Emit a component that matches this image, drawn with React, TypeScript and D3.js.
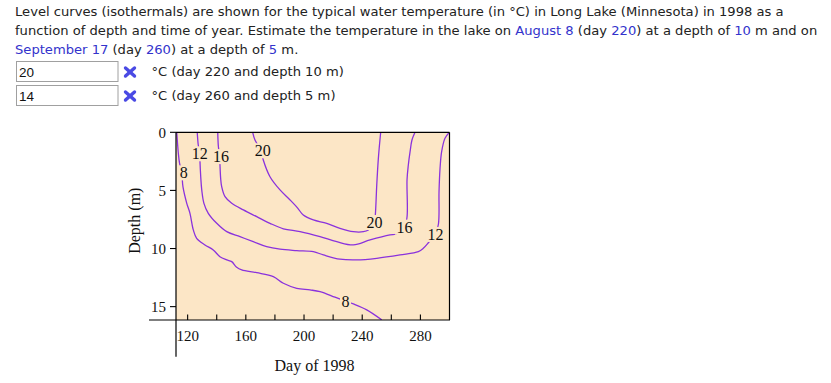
import React from 'react';
import * as d3 from 'd3';

type P = [number, number];

// Isotherm curves: [day of 1998, depth in m]
const curve8: P[] = [[112.5,0],[113.6,1.8],[114.4,2.64],[115.9,3.47],[116.8,4.7],[119.4,6.11],[121.6,6.97],[123.9,8.4],[126.2,9.12],[131.9,9.69],[137.6,10.12],[142.2,10.7],[146.9,10.98],[150.3,11.13],[153.7,11.61],[157.2,11.84],[167.5,12.08],[178.9,12.42],[185.8,12.99],[195.0,13.42],[204.1,13.56],[211.0,13.71],[221.3,14.19],[228.2,14.51],[233.9,14.77],[243.1,15.28],[253.4,16.14]];
const curve12: P[] = [[126.6,0],[127.3,1.09],[128.4,1.85],[128.5,2.55],[129.0,3.82],[129.7,4.96],[131.2,6.11],[134.2,6.97],[140.0,7.83],[146.9,8.55],[156.0,8.98],[165.1,9.41],[174.3,9.84],[183.5,10.06],[195.0,10.18],[206.4,10.27],[213.3,10.55],[224.7,10.92],[236.2,10.98],[250.0,10.84],[266.0,10.55],[278.6,10.27],[282.0,9.98],[285.9,9.44],[290.3,8.79],[292.4,7.89],[292.8,5.11],[293.5,3.10],[294.6,1.67],[296.9,0.52],[299.9,0]];
const curve16: P[] = [[140.7,0],[141.1,1.18],[142.0,2.09],[142.2,2.73],[142.7,3.96],[143.4,4.68],[145.7,5.54],[150.3,6.11],[158.3,6.68],[167.5,7.26],[176.6,7.83],[185.8,8.3],[197.3,8.55],[211.0,8.98],[222.5,9.41],[233.9,9.69],[245.4,9.26],[259.1,8.83],[263.2,8.75],[269.0,8.16],[270.8,7.29],[270.8,4.10],[271.7,2.81],[272.9,1.67],[274.2,0.66],[276.3,0]];
const curve20: P[] = [[164.7,0],[166.3,0.66],[170.5,1.59],[172.0,2.38],[176.6,3.82],[183.5,4.96],[190.4,5.82],[195.5,6.5],[199.5,7.12],[206.4,7.54],[215.6,7.83],[224.7,8.26],[233.9,8.55],[240.8,8.55],[244.2,8.40],[248.5,7.76],[249.1,6.97],[250.0,4.53],[251.1,2.24],[252.7,0]];

const curves: P[][] = [curve8, curve12, curve16, curve20];

const labelTexts = ['8', '12', '16', '20', '20', '16', '12', '8'];
const labelDays = [117.3, 128.4, 142.9, 171.6, 248.5, 269.0, 290.3, 228.5];
const labelDepths = [3.49, 1.85, 2.09, 1.59, 7.76, 8.16, 8.79, 14.54];

const xTicks = [120, 140, 160, 180, 200, 220, 240, 260, 280];
const xTickLabels = [120, 160, 200, 240, 280];
const yTicks = [0, 5, 10, 15];

const answers = ['20', '14'];
const answerTexts = ['°C (day 220 and depth 10 m)', '°C (day 260 and depth 5 m)'];

const BLUE = '#3333cc';
const TXT = '#222';

export default function App() {
  const x = d3.scaleLinear().domain([112, 300]).range([176, 449.5]);
  const y = d3.scaleLinear().domain([0, 16.15]).range([132.3, 320]);
  const line = d3.line<P>().x(d => x(d[0])).y(d => y(d[1])).curve(d3.curveCatmullRom.alpha(0.5));
  const [x0, x1] = x.range();
  const [y0, y1] = y.range();
  const serif = '"Liberation Serif", "Times New Roman", serif';
  const sans = '"DejaVu Sans", Verdana, sans-serif';

  return (
    <svg width={831} height={383} style={{ position: 'absolute', left: 0, top: 0, background: '#fff' }}>
      <defs>
        <clipPath id="plotclip">
          <rect x={x0} y={y0} width={x1 - x0} height={y1 - y0} />
        </clipPath>
      </defs>
      {/* Question text */}
      <g fontFamily={sans} fontSize={13.12} fill={TXT}>
        <text x={15} y={15.5}>Level curves (isothermals) are shown for the typical water temperature (in °C) in Long Lake (Minnesota) in 1998 as a</text>
        <text x={15} y={34.5}>function of depth and time of year. Estimate the temperature in the lake on <tspan fill={BLUE}>August 8</tspan> (day <tspan fill={BLUE}>220</tspan>) at a depth of <tspan fill={BLUE}>10</tspan> m and on</text>
        <text x={15} y={54}><tspan fill={BLUE}>September 17</tspan> (day <tspan fill={BLUE}>260</tspan>) at a depth of <tspan fill={BLUE}>5</tspan> m.</text>
      </g>
      {answers.map((a, i) => {
        const top = 61.5 + i * 24;
        return (
          <g key={i}>
            <rect x={16.5} y={top} width={101.5} height={20} fill="#fff" stroke="#a0a0a0" strokeWidth={1} />
            <text x={19} y={top + 15} fontFamily='"Liberation Sans", Arial, sans-serif' fontSize={13.5} fill="#111">{a}</text>
            <g transform={`translate(130,${top + 10.5})`} stroke="#4a4ae4" strokeWidth={3.4} strokeLinecap="round">
              <line x1={-4.5} y1={-4} x2={4.5} y2={4} />
              <line x1={4.5} y1={-4} x2={-4.5} y2={4} />
            </g>
            <text x={151.5} y={top + 14.5} fontFamily={sans} fontSize={13.12} fill={TXT}>{answerTexts[i]}</text>
          </g>
        );
      })}
      {/* Plot background */}
      <rect x={x0} y={y0} width={x1 - x0} height={y1 - y0} fill="#fce6c6" />
      {/* Curves */}
      <g clipPath="url(#plotclip)">
        {curves.map((c, i) => (
          <path key={i} d={line(c) || ''} fill="none" stroke="#8a32dc" strokeWidth={1.3} />
        ))}
        {labelTexts.map((t, i) => {
          const w = t.length * 8 + 3;
          return (
            <rect key={i} x={x(labelDays[i]) - w / 2} y={y(labelDepths[i]) - 7.5} width={w} height={15} fill="#fce6c6" />
          );
        })}
      </g>
      {labelTexts.map((t, i) => (
        <text key={i} x={x(labelDays[i])} y={y(labelDepths[i])} dy="0.35em" textAnchor="middle" fontFamily={serif} fontSize={16} fill="#111">{t}</text>
      ))}
      {/* Frame */}
      <g stroke="#000" strokeWidth={1.2} fill="none">
        <line x1={x0} y1={y0} x2={x1} y2={y0} />
        <line x1={x1} y1={y0} x2={x1} y2={y1} />
        <line x1={x0} y1={y0} x2={x0} y2={356.7} />
        <line x1={149} y1={y1} x2={x1 + 0.5} y2={y1} />
      </g>
      {/* X ticks */}
      {xTicks.map(t => (
        <line key={t} x1={x(t)} y1={y1} x2={x(t)} y2={y1 - 5.5} stroke="#000" strokeWidth={1.1} />
      ))}
      {xTickLabels.map(t => (
        <text key={t} x={x(t)} y={341} textAnchor="middle" fontFamily={serif} fontSize={15} fill="#111">{t}</text>
      ))}
      {/* Y ticks */}
      {yTicks.map(t => (
        <g key={t}>
          <line x1={x0 - 6} y1={y(t)} x2={x0} y2={y(t)} stroke="#000" strokeWidth={1.1} />
          <text x={166} y={y(t)} dy="0.35em" textAnchor="end" fontFamily={serif} fontSize={15} fill="#111">{t}</text>
        </g>
      ))}
      <text x={314.5} y={370.5} textAnchor="middle" fontFamily={serif} fontSize={16} fill="#111">Day of 1998</text>
      <text transform="translate(134.5,220.7) rotate(-90)" dy="0.35em" textAnchor="middle" fontFamily={serif} fontSize={16} fill="#111">Depth (m)</text>
    </svg>
  );
}
